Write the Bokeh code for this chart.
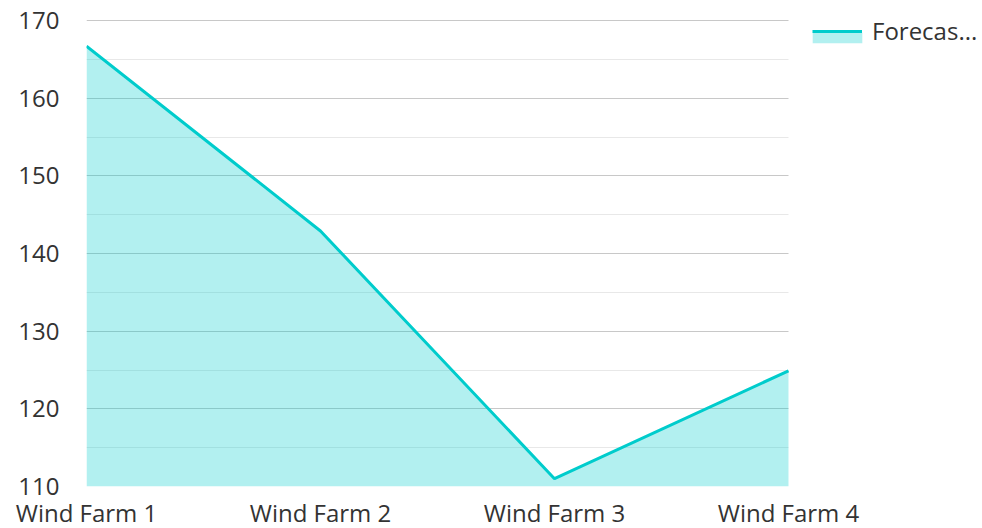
from bokeh.plotting import figure
from bokeh.models import Legend, LegendItem, FixedTicker, Range1d, BoxAnnotation
from bokeh.embed import file_html
from bokeh.resources import INLINE

categories = ["Wind Farm 1", "Wind Farm 2", "Wind Farm 3", "Wind Farm 4"]
forecast = [166.7, 142.9, 111.0, 124.9]
y_ticks = [110, 120, 130, 140, 150, 160, 170]
y_minor = [115, 125, 135, 145, 155, 165]
series_name = "Forecas..."

xs = list(range(len(categories)))

FONT = "Open Sans"
TEXT = "#333333"
COLOR = "#00cccc"

# layout (pixels): plotted data region 86..788 x, 20..486 y; frame extended to the
# right and top so the legend can sit inside it
PLOT_W, PLOT_H, TOP_PAD, RIGHT_PAD = 702, 466, 20, 194
y0, y1 = y_ticks[0], y_ticks[-1]
x_last = len(categories) - 1
y_top = y1 + TOP_PAD * (y1 - y0) / PLOT_H
x_right = x_last + RIGHT_PAD * x_last / PLOT_W

p = figure(width=982, height=528, frame_width=PLOT_W + RIGHT_PAD, frame_height=PLOT_H + TOP_PAD,
           output_backend="svg", toolbar_location=None,
           x_range=Range1d(0, x_right), y_range=Range1d(y0, y_top),
           min_border_left=86, min_border_right=0, min_border_top=0,
           min_border_bottom=42)
p.outline_line_color = None
p.background_fill_color = "white"
p.border_fill_color = "white"

p.xgrid.visible = False
p.ygrid.ticker = FixedTicker(ticks=y_ticks, minor_ticks=y_minor)
p.ygrid.grid_line_color = "#c8c8c8"
p.ygrid.minor_grid_line_color = "#e8e8e8"

# white cover for grid lines beyond the last category
cover = BoxAnnotation(left=x_last, fill_color="white", fill_alpha=1.0, line_color=None,
                      level="underlay")
p.add_layout(cover)

area_r = p.varea(x=xs, y1=[y0] * len(xs), y2=forecast, fill_color=COLOR, fill_alpha=0.3)
line_r = p.line(x=xs, y=forecast, line_color=COLOR, line_width=3)

p.xaxis.ticker = FixedTicker(ticks=xs)
p.xaxis.major_label_overrides = {i: c for i, c in enumerate(categories)}
p.yaxis.ticker = FixedTicker(ticks=y_ticks)
for ax in (p.xaxis, p.yaxis):
    ax.axis_line_color = None
    ax.major_tick_line_color = None
    ax.minor_tick_line_color = None
    ax.major_tick_out = 0
    ax.major_tick_in = 0
    ax.minor_tick_out = 0
    ax.major_label_text_font = FONT
    ax.major_label_text_font_size = "24px"
    ax.major_label_text_color = TEXT
p.yaxis.major_label_standoff = 27
p.xaxis.major_label_standoff = 9

common = dict(padding=0, margin=0, border_line_color=None, background_fill_alpha=0,
              label_text_font=FONT, label_text_font_size="24px", label_text_color=TEXT,
              label_standoff=10)
legend_area = Legend(items=[LegendItem(label=" ", renderers=[area_r])],
                     location=(720, 442), glyph_width=62, glyph_height=13, **common)
legend_line = Legend(items=[LegendItem(label=series_name, renderers=[line_r])],
                     location=(726, 439), glyph_width=50, glyph_height=14, **common)
p.add_layout(legend_area)
p.add_layout(legend_line)

open("out.html", "w").write(file_html(p, INLINE))
